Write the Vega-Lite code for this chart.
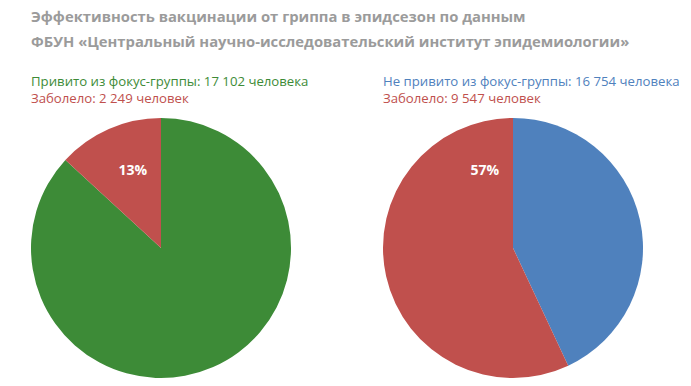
{
  "$schema": "https://vega.github.io/schema/vega-lite/v6.json",
  "background": "white",
  "padding": {"left": 31, "top": 9, "right": 5, "bottom": 5},
  "title": {
    "text": ["Эффективность вакцинации от гриппа в эпидсезон по данным", "ФБУН «Центральный научно-исследовательский институт эпидемиологии»"],
    "anchor": "start",
    "frame": "group",
    "font": "Open Sans",
    "fontSize": 14.8,
    "fontWeight": "bold",
    "color": "#9b9b9b",
    "lineHeight": 25,
    "offset": 25
  },
  "config": {"view": {"stroke": null}, "concat": {"spacing": 74}},
  "resolve": {"scale": {"theta": "independent"}},
  "hconcat": [
    {
      "width": 260,
      "height": 260,
      "title": {
        "text": "Привито из фокус-группы: 17 102 человека",
        "subtitle": "Заболело: 2 249 человек",
        "anchor": "start",
        "font": "Open Sans",
        "subtitleFont": "Open Sans",
        "fontSize": 13.2,
        "subtitleFontSize": 13.2,
        "fontWeight": "normal",
        "color": "#3d8b37",
        "subtitleColor": "#c0504d",
        "subtitlePadding": 4,
        "offset": 12
      },
      "layer": [
        {
          "data": {"values": [
            {"cat": "Привито, не заболело", "value": 14853, "ord": 1},
            {"cat": "Заболело", "value": 2249, "ord": 2}
          ]},
          "mark": {"type": "arc", "outerRadius": 130},
          "encoding": {
            "theta": {"field": "value", "type": "quantitative", "stack": true},
            "order": {"field": "ord", "type": "quantitative"},
            "color": {"field": "cat", "type": "nominal", "legend": null,
              "scale": {"domain": ["Привито, не заболело", "Не привито, не заболело", "Заболело"], "range": ["#3d8b37", "#4f81bd", "#c0504d"]}}
          }
        },
        {
          "data": {"values": [{"label": "13%", "pos": 0.944}]},
          "mark": {"type": "text", "radius": 82, "font": "Open Sans", "fontSize": 14, "fontWeight": "bold", "color": "white"},
          "encoding": {
            "theta": {"field": "pos", "type": "quantitative", "scale": {"domain": [0, 1], "range": [0, 6.2832]}},
            "text": {"field": "label"}
          }
        }
      ],
      "resolve": {"scale": {"theta": "independent"}}
    },
    {
      "width": 260,
      "height": 260,
      "title": {
        "text": "Не привито из фокус-группы: 16 754 человека",
        "subtitle": "Заболело: 9 547 человек",
        "anchor": "start",
        "font": "Open Sans",
        "subtitleFont": "Open Sans",
        "fontSize": 13.2,
        "subtitleFontSize": 13.2,
        "fontWeight": "normal",
        "color": "#4f81bd",
        "subtitleColor": "#c0504d",
        "subtitlePadding": 4,
        "offset": 12
      },
      "layer": [
        {
          "data": {"values": [
            {"cat": "Не привито, не заболело", "value": 7207, "ord": 1},
            {"cat": "Заболело", "value": 9547, "ord": 2}
          ]},
          "mark": {"type": "arc", "outerRadius": 130},
          "encoding": {
            "theta": {"field": "value", "type": "quantitative", "stack": true},
            "order": {"field": "ord", "type": "quantitative"},
            "color": {"field": "cat", "type": "nominal", "legend": null,
              "scale": {"domain": ["Привито, не заболело", "Не привито, не заболело", "Заболело"], "range": ["#3d8b37", "#4f81bd", "#c0504d"]}}
          }
        },
        {
          "data": {"values": [{"label": "57%", "pos": 0.944}]},
          "mark": {"type": "text", "radius": 82, "font": "Open Sans", "fontSize": 14, "fontWeight": "bold", "color": "white"},
          "encoding": {
            "theta": {"field": "pos", "type": "quantitative", "scale": {"domain": [0, 1], "range": [0, 6.2832]}},
            "text": {"field": "label"}
          }
        }
      ],
      "resolve": {"scale": {"theta": "independent"}}
    }
  ]
}
